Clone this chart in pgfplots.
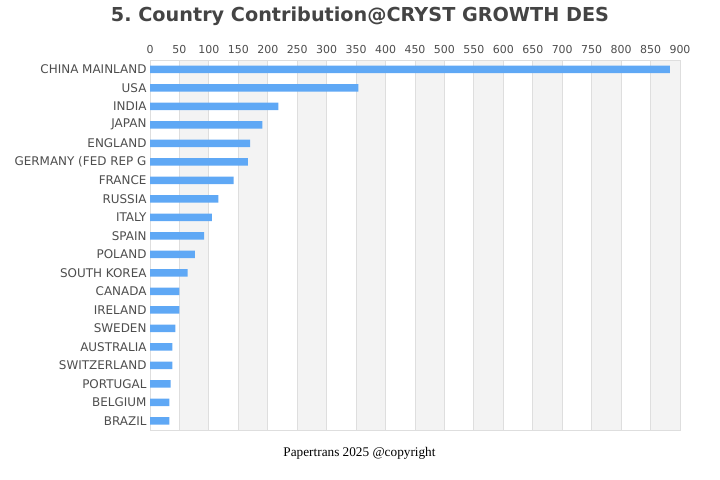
\documentclass[border=0pt]{standalone}
\usepackage{pgfplots}
\pgfplotsset{compat=1.18}
\usepackage{fontspec}
\setmainfont{DejaVu Sans}
\newfontfamily\seriffont{Liberation Serif}
\definecolor{barblue}{RGB}{95,168,245}
\definecolor{band}{RGB}{243,243,243}
\definecolor{gridc}{RGB}{222,222,222}
\definecolor{txt}{RGB}{77,77,77}
\definecolor{ttl}{RGB}{68,68,68}
\begin{document}
\frenchspacing
\begin{tikzpicture}
\path[use as bounding box] (0bp,0bp) rectangle (720bp,480bp);
\foreach \a in {50,150,...,850} {
  \fill[band] ({(150+\a/900*530)*1bp},50bp) rectangle ({(150+(\a+50)/900*530)*1bp},420bp);
}
\begin{axis}[at={(150bp,50bp)}, anchor=south west,
  width=530bp, height=370bp, scale only axis,
  xmin=0, xmax=900, ymin=-0.5, ymax=19.5, y dir=reverse,
  xtick distance=50, xticklabel pos=upper,
  ytick={0,...,19},
  yticklabels={CHINA MAINLAND,USA,INDIA,JAPAN,ENGLAND,GERMANY (FED REP G,FRANCE,RUSSIA,ITALY,SPAIN,POLAND,SOUTH KOREA,CANADA,IRELAND,SWEDEN,AUSTRALIA,SWITZERLAND,PORTUGAL,BELGIUM,BRAZIL},
  major tick length=0, xmajorgrids, grid style={gridc, line width=0.8bp},
  axis line style={gridc, line width=0.8bp},
  tick label style={text=txt},
  xticklabel style={font=\fontsize{11}{12}\selectfont, yshift=3bp},
  yticklabel style={font=\fontsize{12}{14}\selectfont},
  /pgf/number format/assume math mode=true,
  xbar, bar width=7.5bp,
]
\addplot[fill=barblue, draw=none] coordinates {
(883,0) (354,1) (218,2) (191,3) (170,4) (166,5) (142,6) (116,7) (105,8) (92,9)
(76,10) (64,11) (50,12) (50,13) (43,14) (38,15) (38,16) (35,17) (33,18) (33,19)
};
\end{axis}
\node[anchor=base, font=\bfseries\fontsize{19.3}{22}\selectfont, text=ttl] at (360bp,458bp) {5.\ Country Contribution@CRYST GROWTH DES};
\node[anchor=base, font=\seriffont\fontsize{13.3}{15}\selectfont] at (359.5bp,24bp) {Papertrans 2025 @copyright};
\end{tikzpicture}
\end{document}
